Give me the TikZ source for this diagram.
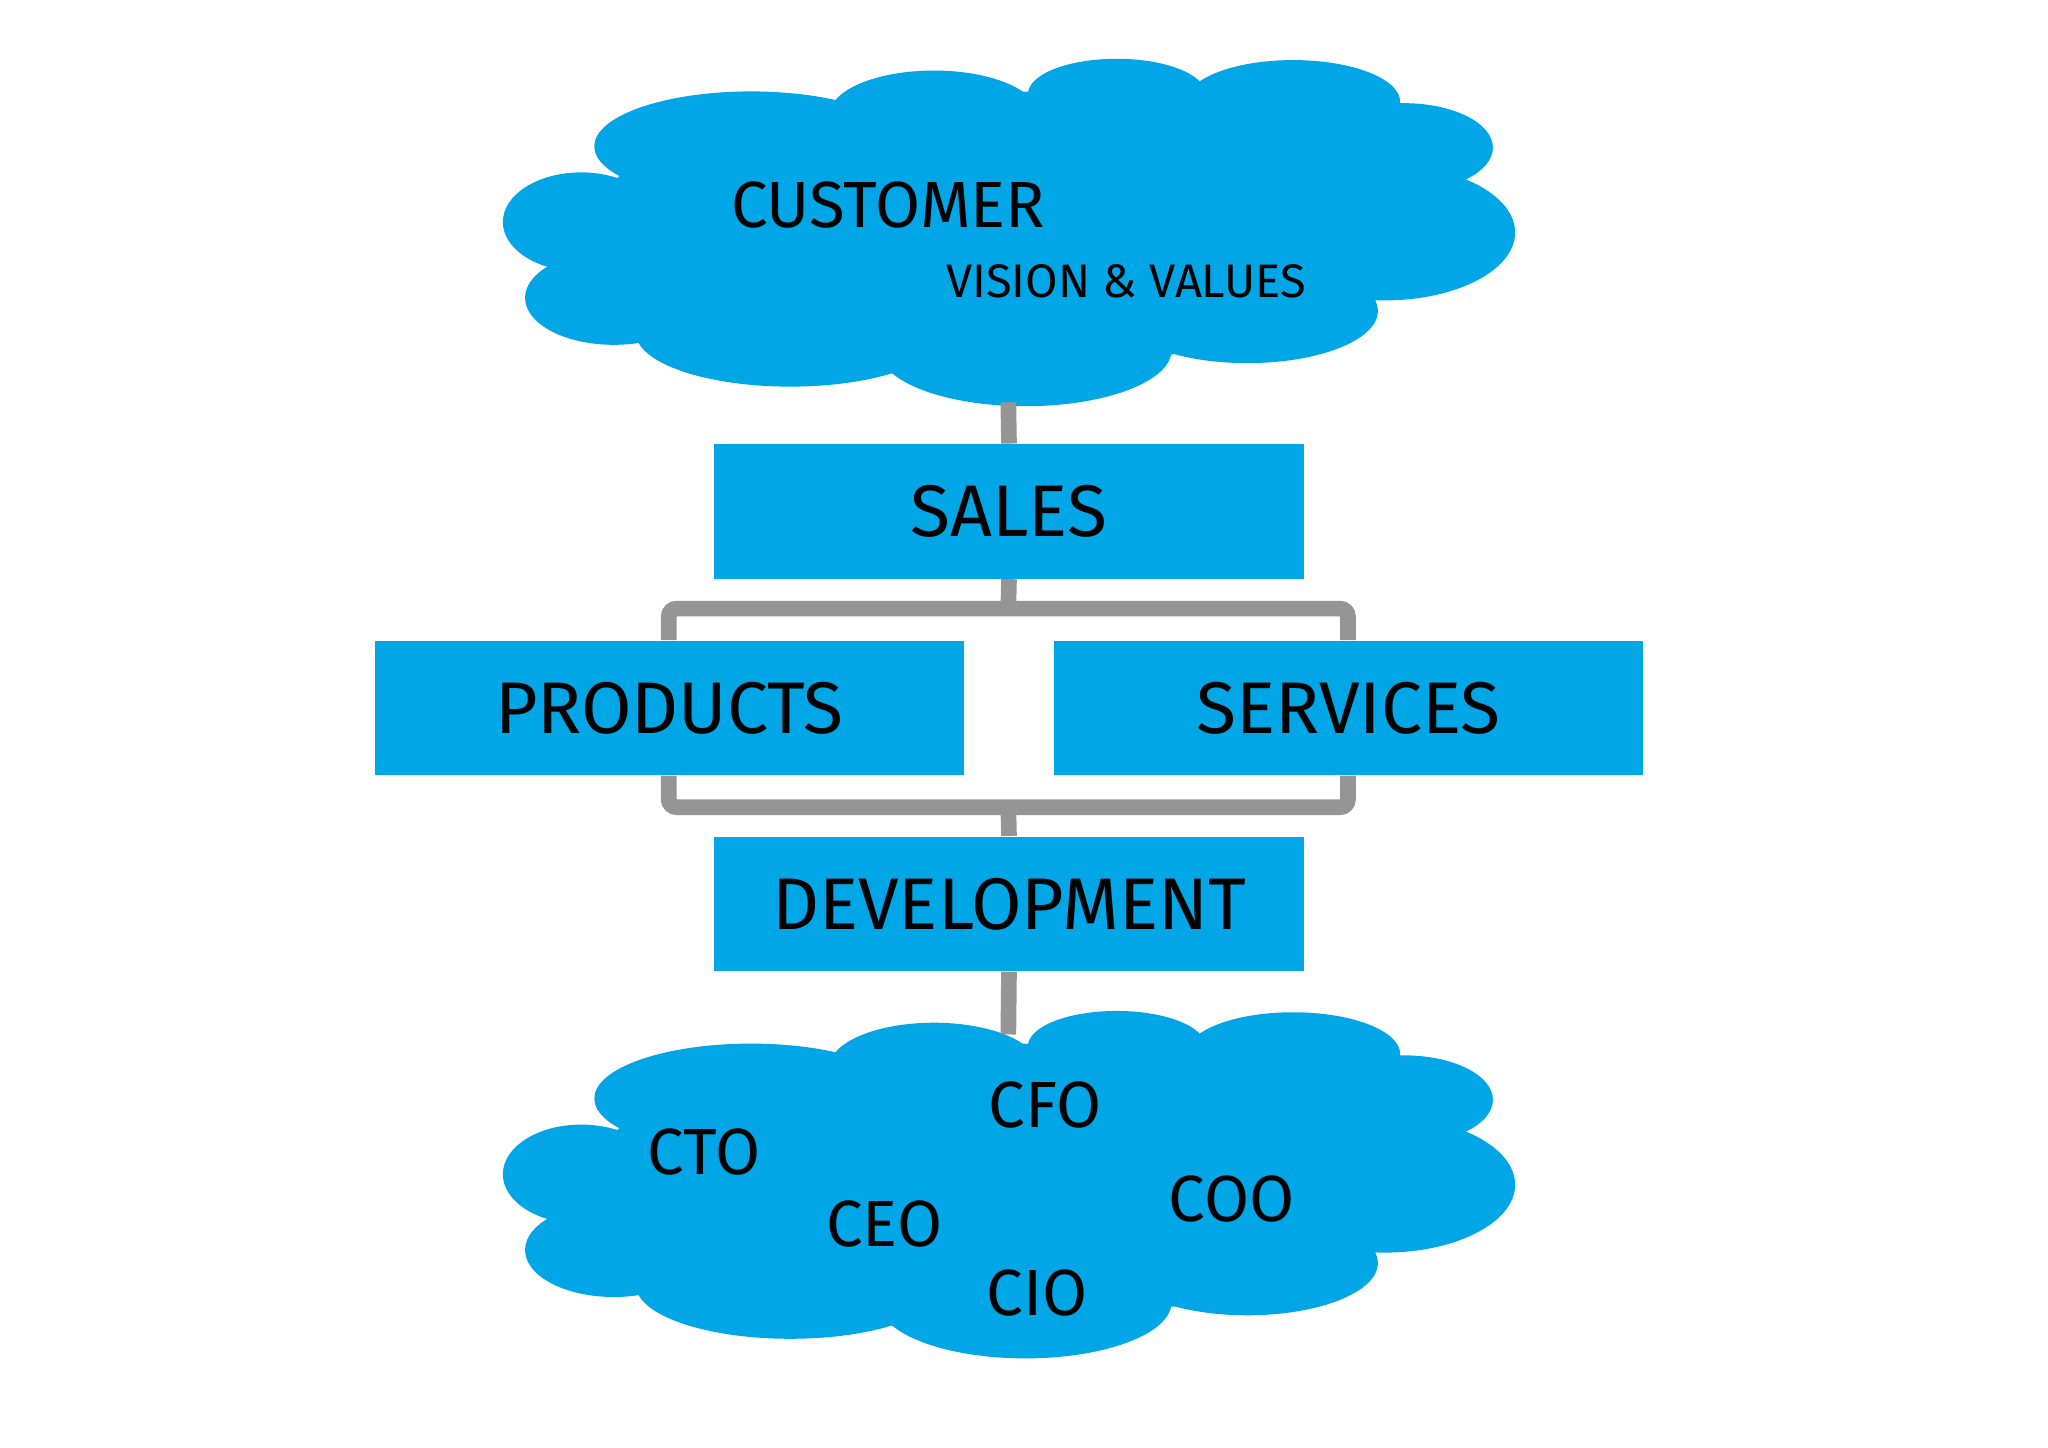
\documentclass[tikz,border=0pt]{standalone}
\usepackage{fontspec}
\setmainfont{Fira Sans}
\definecolor{cblue}{RGB}{0,166,230}
\definecolor{cgrey}{RGB}{149,149,149}
\begin{document}
\begin{tikzpicture}[x=0.5pt,y=-0.5pt,
  box/.style={fill=cblue,minimum width=225.5pt,minimum height=51.5pt,inner sep=0pt,font=\fontsize{28}{28}\selectfont},
  lbl/.style={font=\fontsize{25}{25}\selectfont},
  conn/.style={draw=cgrey,line width=6pt,rounded corners=3pt}]
\useasboundingbox (0,0) rectangle (1568,1108);
\fill[white] (0,0) rectangle (1568,1108);
\newcommand{\mycloud}[1]{%
 \begin{scope}[yshift=#1]
 \fill[cblue] (575,112) ellipse [x radius=120,y radius=42];
 \fill[cblue] (715,88) ellipse [x radius=80,y radius=34];
 \fill[cblue] (855,72) ellipse [x radius=68,y radius=27];
 \fill[cblue] (990,78) ellipse [x radius=82,y radius=32];
 \fill[cblue] (1075,113) ellipse [x radius=68,y radius=34];
 \fill[cblue] (1060,178) ellipse [x radius=100,y radius=52];
 \fill[cblue] (955,238) ellipse [x radius=100,y radius=40];
 \fill[cblue] (785,268) ellipse [x radius=112,y radius=43];
 \fill[cblue] (605,255) ellipse [x radius=118,y radius=41];
 \fill[cblue] (470,228) ellipse [x radius=68,y radius=36];
 \fill[cblue] (445,170) ellipse [x radius=60,y radius=38];
 \fill[cblue] (770,175) ellipse [x radius=320,y radius=105];
 \end{scope}}
\mycloud{0pt}
\mycloud{-364.5pt}
\coordinate (c1) at (772,308);
\coordinate (c2) at (772,792);
\node[box] (sales) at (772.5,391.5) {SALES};
\node[box] (prod) at (512.5,542) {PRODUCTS};
\node[box] (serv) at (1032.5,542) {SERVICES};
\node[box] (dev) at (772.5,692) {DEVELOPMENT};
\draw[conn] (c1) -- (sales.north);
\draw[conn] (sales.south) -- (772,466);
\draw[conn] (prod.north -| 512,0) -- (512,466) -- (1032,466) -- (serv.north -| 1032,0);
\draw[conn] (prod.south -| 512,0) -- (512,618) -- (1032,618) -- (serv.south -| 1032,0);
\draw[conn] (772,618) -- (dev.north);
\draw[conn] (dev.south) -- (c2);
\node[lbl] (cust) at (680,157) {CUSTOMER};
\node[font=\fontsize{18}{18}\selectfont] (vis) at (862,215) {VISION \& VALUES};
\node[lbl] (cto) at (539,882) {CTO};
\node[lbl] (cfo) at (800,846) {CFO};
\node[lbl] (ceo) at (677,937) {CEO};
\node[lbl] (coo) at (943,918) {COO};
\node[lbl] (cio) at (794,990) {CIO};
\end{tikzpicture}
\end{document}
